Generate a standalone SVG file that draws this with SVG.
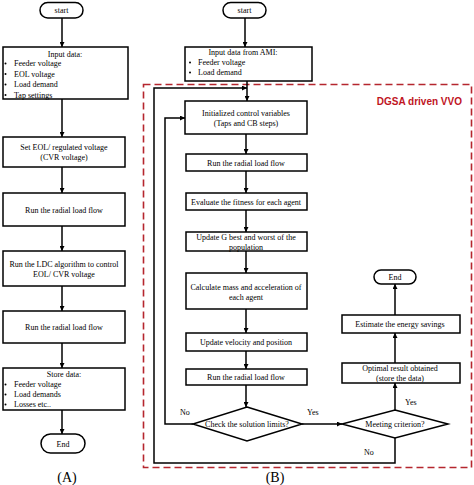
<svg xmlns="http://www.w3.org/2000/svg" width="474" height="485" viewBox="0 0 474 485">
<style>
.b{fill:#fff;stroke:#000;stroke-width:1.5}
.t{font-family:"Liberation Serif",serif;font-size:8px;fill:#000}
.m{text-anchor:middle}
.c{fill:none;stroke:#000;stroke-width:1.5}
.lbl{font-family:"Liberation Serif",serif;font-size:14px;fill:#000;text-anchor:middle}
</style>
<defs>
<marker id="ah" viewBox="0 0 8 8" refX="8" refY="4" markerWidth="5" markerHeight="5" orient="auto" markerUnits="userSpaceOnUse">
<path d="M0,0 L8,4 L0,8 z" fill="#000"/>
</marker>
</defs>
<rect width="474" height="485" fill="#fff"/>

<g id="dgsa-region">
<rect x="143.5" y="84.5" width="328" height="383" fill="none" stroke="#b5262e" stroke-width="1.6" stroke-dasharray="7 4"/>
<text x="462" y="105" text-anchor="end" font-family="'Liberation Sans',sans-serif" font-size="10" font-weight="bold" fill="#c0141e">DGSA  driven VVO</text>
</g>

<g id="connectors">
<line class="c" x1="62" y1="18" x2="62" y2="47" marker-end="url(#ah)"/>
<line class="c" x1="62" y1="99" x2="62" y2="137" marker-end="url(#ah)"/>
<line class="c" x1="62" y1="167" x2="62" y2="193" marker-end="url(#ah)"/>
<line class="c" x1="62" y1="226" x2="62" y2="251" marker-end="url(#ah)"/>
<line class="c" x1="62" y1="286" x2="62" y2="311" marker-end="url(#ah)"/>
<line class="c" x1="62" y1="343" x2="62" y2="368" marker-end="url(#ah)"/>
<line class="c" x1="62" y1="410" x2="62" y2="434" marker-end="url(#ah)"/>
<line class="c" x1="245" y1="18" x2="245" y2="47" marker-end="url(#ah)"/>
<line class="c" x1="247" y1="81" x2="247" y2="101" marker-end="url(#ah)"/>
<line class="c" x1="246" y1="134" x2="246" y2="154" marker-end="url(#ah)"/>
<line class="c" x1="246" y1="171" x2="246" y2="193" marker-end="url(#ah)"/>
<line class="c" x1="246" y1="210" x2="246" y2="232" marker-end="url(#ah)"/>
<line class="c" x1="246" y1="251" x2="246" y2="273" marker-end="url(#ah)"/>
<line class="c" x1="246" y1="309" x2="246" y2="333" marker-end="url(#ah)"/>
<line class="c" x1="246" y1="351" x2="246" y2="369" marker-end="url(#ah)"/>
<line class="c" x1="246" y1="385" x2="246" y2="407" marker-end="url(#ah)"/>
<polyline class="c" points="193,424 165,424 165,118 185,118" marker-end="url(#ah)"/>
<line class="c" x1="302" y1="424" x2="342" y2="424" marker-end="url(#ah)"/>
<line class="c" x1="395" y1="410" x2="395" y2="383" marker-end="url(#ah)"/>
<line class="c" x1="395" y1="363" x2="395" y2="333" marker-end="url(#ah)"/>
<line class="c" x1="395" y1="315" x2="395" y2="284" marker-end="url(#ah)"/>
<polyline class="c" points="395,438 395,463 154,463 154,88 247,88" marker-end="url(#ah)"/>
<text class="t" x="180" y="415">No</text>
<text class="t" x="307" y="415">Yes</text>
<text class="t" x="405" y="405">Yes</text>
<text class="t" x="364" y="455">No</text>
</g>

<g id="a-start">
<rect class="b" x="40" y="2.5" width="43" height="15.5" rx="7.75"/>
<text class="t m" x="61.5" y="13">start</text>
</g>
<g id="a-input">
<rect class="b" x="3" y="47" width="125" height="52"/>
<text class="t m" x="65" y="57">Input data:</text>
<circle cx="5.5" cy="63.5" r="1"/><text class="t" x="14" y="66">Feeder voltage</text>
<circle cx="5.5" cy="74" r="1"/><text class="t" x="14" y="76.5">EOL voltage</text>
<circle cx="5.5" cy="84.5" r="1"/><text class="t" x="14" y="87">Load demand</text>
<circle cx="5.5" cy="95" r="1"/><text class="t" x="14" y="97.5">Tap settings</text>
</g>
<g id="a-set-eol">
<rect class="b" x="3" y="137" width="122" height="30"/>
<text class="t m" x="64" y="150">Set EOL/ regulated voltage</text>
<text class="t m" x="64" y="159.5">(CVR voltage)</text>
</g>
<g id="a-run1">
<rect class="b" x="3" y="193" width="122" height="33"/>
<text class="t m" x="64" y="213">Run the radial load flow</text>
</g>
<g id="a-ldc">
<rect class="b" x="3" y="251" width="122" height="35"/>
<text class="t m" x="64" y="267">Run the LDC algorithm to control</text>
<text class="t m" x="64" y="277">EOL/ CVR voltage</text>
</g>
<g id="a-run2">
<rect class="b" x="3" y="311" width="122" height="32"/>
<text class="t m" x="64" y="330">Run the radial load flow</text>
</g>
<g id="a-store">
<rect class="b" x="3" y="368" width="122" height="42"/>
<text class="t m" x="64" y="377">Store data:</text>
<circle cx="5.5" cy="384.5" r="1"/><text class="t" x="14" y="387">Feeder voltage</text>
<circle cx="5.5" cy="394.5" r="1"/><text class="t" x="14" y="397">Load demands</text>
<circle cx="5.5" cy="404.5" r="1"/><text class="t" x="14" y="407">Losses etc..</text>
</g>
<g id="a-end">
<rect class="b" x="41" y="434" width="44" height="19" rx="9.5"/>
<text class="t m" x="63" y="447">End</text>
</g>
<text class="lbl" x="67" y="482">(A)</text>

<g id="b-start">
<rect class="b" x="223" y="2.5" width="43" height="15.5" rx="7.75"/>
<text class="t m" x="244.5" y="13">start</text>
</g>
<g id="b-input">
<rect class="b" x="185" y="47" width="127" height="34"/>
<text class="t m" x="243" y="55">Input data from AMI:</text>
<circle cx="190" cy="62.5" r="1"/><text class="t" x="198" y="65">Feeder voltage</text>
<circle cx="190" cy="72.5" r="1"/><text class="t" x="198" y="75">Load demand</text>
</g>
<g id="b-init">
<rect class="b" x="185" y="101" width="122" height="33"/>
<text class="t m" x="246" y="116">Initialized control variables</text>
<text class="t m" x="246" y="126">(Taps and CB steps)</text>
</g>
<g id="b-run1">
<rect class="b" x="186" y="154" width="121" height="17"/>
<text class="t m" x="246" y="165.5">Run the radial load flow</text>
</g>
<g id="b-eval">
<rect class="b" x="186" y="193" width="121" height="17"/>
<text class="t m" x="246" y="204.5">Evaluate the fitness for each agent</text>
</g>
<g id="b-gbest">
<rect class="b" x="186" y="232" width="121" height="19"/>
<text class="t m" x="246" y="240">Update G best and worst of the</text>
<text class="t m" x="246" y="250">population</text>
</g>
<g id="b-mass">
<rect class="b" x="186" y="273" width="121" height="36"/>
<text class="t m" x="246" y="290">Calculate mass and acceleration of</text>
<text class="t m" x="246" y="300">each agent</text>
</g>
<g id="b-vel">
<rect class="b" x="186" y="333" width="121" height="18"/>
<text class="t m" x="246" y="345">Update velocity and position</text>
</g>
<g id="b-run2">
<rect class="b" x="186" y="369" width="121" height="16"/>
<text class="t m" x="246" y="380">Run the radial load flow</text>
</g>
<g id="b-check">
<polygon class="b" points="247,407 302,424 247,441 193,424"/>
<text class="t m" x="247" y="427">Check the solution limits?</text>
</g>
<g id="b-meet">
<polygon class="b" points="395,410 448,424 395,438 342,424"/>
<text class="t m" x="395" y="427">Meeting criterion?</text>
</g>
<g id="b-optimal">
<rect class="b" x="342" y="363" width="118" height="20"/>
<text class="t m" x="400" y="371">Optimal result obtained</text>
<text class="t m" x="400" y="380.5">(store the data)</text>
</g>
<g id="b-estimate">
<rect class="b" x="342" y="315" width="118" height="18"/>
<text class="t m" x="400" y="327">Estimate the energy savings</text>
</g>
<g id="b-end">
<rect class="b" x="374" y="270" width="42" height="14" rx="7"/>
<text class="t m" x="395" y="280">End</text>
</g>
<text class="lbl" x="275" y="482">(B)</text>
</svg>
